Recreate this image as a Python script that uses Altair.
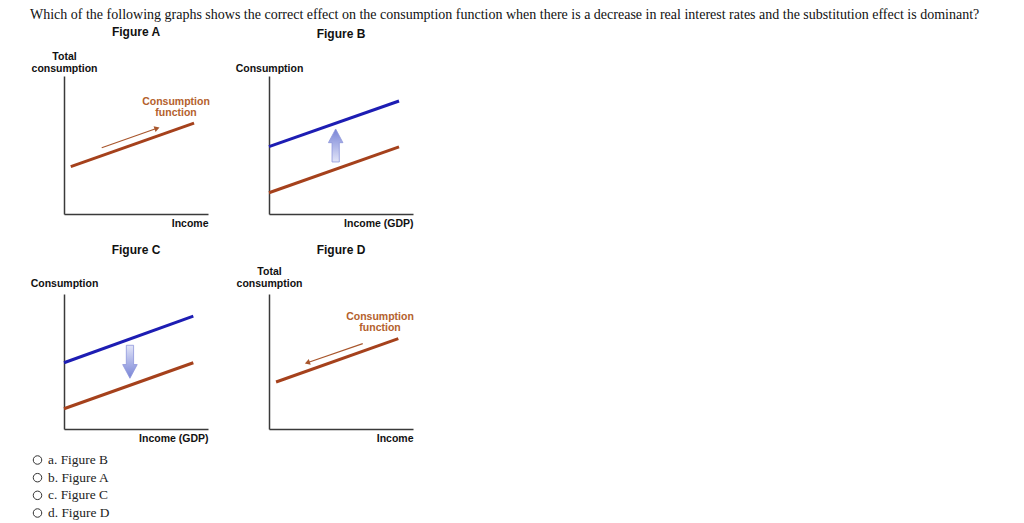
import altair as alt
import pandas as pd

# ---------------- text ----------------
QUESTION = ("Which of the following graphs shows the correct effect on the consumption function "
            "when there is a decrease in real interest rates and the substitution effect is dominant?")
FIG_TITLES = ["Figure A", "Figure B", "Figure C", "Figure D"]
Y_TITLES = [["Total", "consumption"], "Consumption", "Consumption", ["Total", "consumption"]]
X_TITLES = ["Income", "Income (GDP)", "Income (GDP)", "Income"]
CF_LABEL = "Consumption\nfunction"
OPTIONS = ["a. Figure B", "b. Figure A", "c. Figure C", "d. Figure D"]

# ---------------- data (panel units, 0..10 on both axes) ----------------
# Figure A: movement along the consumption function (up-right)
a_cf_x = [0.47, 9.03]
a_cf_y = [3.43, 6.59]
a_move_x = [2.62, 6.46]
a_move_y = [4.80, 6.21]
a_label_xy = [7.78, 8.14]

# Figure B: upward shift
b_x = [0.0, 9.03]
b_before_y = [1.54, 4.86]
b_after_y = [4.88, 8.19]
b_shift_x = 4.63
b_shift_tail_tip = [3.79, 6.14]

# Figure C: downward shift
c_x = [0.0, 8.98]
c_before_y = [4.91, 8.36]
c_after_y = [1.50, 4.91]
c_shift_x = 4.58
c_shift_tail_tip = [6.15, 3.81]

# Figure D: movement along the consumption function (down-left)
d_cf_x = [0.49, 8.98]
d_cf_y = [3.48, 6.69]
d_move_x = [6.51, 2.66]
d_move_y = [6.32, 4.91]
d_label_xy = [7.71, 8.30]

# ---------------- styles ----------------
RED = "#a5411c"
BLUE = "#1d1db3"
LABEL = "#b4612d"
THIN = "#a8562c"
AXIS = "#3a3a3a"
SANS = "Liberation Sans"
SERIF = "Liberation Serif"

UP_ARROW = "M0,-1 L0.44,-0.17 L0.22,-0.17 L0.22,1 L-0.22,1 L-0.22,-0.17 L-0.44,-0.17 Z"
DOWN_ARROW = "M0,1 L0.44,0.17 L0.22,0.17 L0.22,-1 L-0.22,-1 L-0.22,0.17 L-0.44,0.17 Z"


def grad(dark_top):
    dark, light = "#7783d6", "#e2e5f8"
    stops = [alt.GradientStop(color=dark, offset=0), alt.GradientStop(color=light, offset=1)]
    if not dark_top:
        stops = [alt.GradientStop(color=light, offset=0), alt.GradientStop(color=dark, offset=1)]
    return alt.LinearGradient(gradient="linear", stops=stops, x1=0, x2=0, y1=0, y2=1)


def enc_x(title):
    return alt.X("x:Q", scale=alt.Scale(domain=[0, 10], nice=False, zero=False),
                 axis=alt.Axis(title=title, ticks=False, labels=False, grid=False,
                               domainColor=AXIS, domainWidth=1.5,
                               titleAnchor="end", titleAlign="right", titlePadding=4,
                               titleFont=SANS, titleFontSize=10.5, titleFontWeight="bold",
                               titleColor="#111"))


def enc_y(title, ty):
    return alt.Y("y:Q", scale=alt.Scale(domain=[0, 10], nice=False, zero=False),
                 axis=alt.Axis(title=title, ticks=False, labels=False, grid=False,
                               domainColor=AXIS, domainWidth=1.5,
                               titleAngle=0, titleX=0, titleY=ty, titleAlign="center",
                               titleBaseline="top", titleLineHeight=12,
                               titleFont=SANS, titleFontSize=10.5, titleFontWeight="bold",
                               titleColor="#111"))


def curves(xs, series):
    rows = []
    for name, ys in series:
        for x, y in zip(xs, ys):
            rows.append({"x": x, "y": y, "curve": name})
    return pd.DataFrame(rows)


def panel(i, layers_fn, height, title_offset, ty):
    X = enc_x(X_TITLES[i])
    Y = enc_y(Y_TITLES[i], ty)
    layers = layers_fn(X, Y)
    return alt.layer(*layers).properties(
        width=144, height=height,
        title=alt.TitleParams(FIG_TITLES[i], frame="group", anchor="middle", offset=title_offset,
                              baseline="bottom", font=SANS, fontSize=12, fontWeight="bold",
                              color="#111"))


def curve_layer(df, X, Y, domain, rng):
    return alt.Chart(df).mark_line(strokeWidth=3, strokeCap="butt").encode(
        x=X, y=Y, detail="curve:N",
        color=alt.Color("curve:N", scale=alt.Scale(domain=domain, range=rng), legend=None))


def move_layers(xs, ys, shape, X, Y):
    df = pd.DataFrame({"x": xs, "y": ys})
    line = alt.Chart(df).mark_line(strokeWidth=1.2, color=THIN).encode(x=X, y=Y)
    head = alt.Chart(df.tail(1)).mark_point(shape=shape, filled=True, size=36, angle=341,
                                            color=THIN, opacity=1).encode(x=X, y=Y)
    return [line, head]


def label_layer(xy, X, Y):
    df = pd.DataFrame({"x": [xy[0]], "y": [xy[1]], "t": [CF_LABEL]})
    return alt.Chart(df).mark_text(lineBreak="\n", font=SANS, fontSize=10.5, fontWeight="bold",
                                   color=LABEL, align="center", baseline="middle",
                                   lineHeight=11.5).encode(x=X, y=Y, text="t:N")


def shift_layer(x, tail_tip, path, dark_top, X, Y):
    df = pd.DataFrame({"x": [x], "tail": [tail_tip[0]], "tip": [tail_tip[1]]})
    df["y"] = (df["tail"] + df["tip"]) / 2
    return alt.Chart(df).mark_point(shape=path, size=1089, filled=True, opacity=1,
                                    fill=grad(dark_top), stroke="#8d95da",
                                    strokeWidth=0.8).encode(x=X, y=Y)


def layers_a(X, Y):
    df = curves(a_cf_x, [("before", a_cf_y)])
    return ([curve_layer(df, X, Y, ["before"], [RED])]
            + move_layers(a_move_x, a_move_y, "triangle-right", X, Y)
            + [label_layer(a_label_xy, X, Y)])


def layers_b(X, Y):
    df = curves(b_x, [("before", b_before_y), ("after", b_after_y)])
    return [curve_layer(df, X, Y, ["before", "after"], [RED, BLUE]),
            shift_layer(b_shift_x, b_shift_tail_tip, UP_ARROW, True, X, Y)]


def layers_c(X, Y):
    df = curves(c_x, [("before", c_before_y), ("after", c_after_y)])
    return [curve_layer(df, X, Y, ["before", "after"], [BLUE, RED]),
            shift_layer(c_shift_x, c_shift_tail_tip, DOWN_ARROW, False, X, Y)]


def layers_d(X, Y):
    df = curves(d_cf_x, [("before", d_cf_y)])
    return ([curve_layer(df, X, Y, ["before"], [RED])]
            + move_layers(d_move_x, d_move_y, "triangle-left", X, Y)
            + [label_layer(d_label_xy, X, Y)])


pA = panel(0, layers_a, 138, 0, -25)
pB = panel(1, layers_b, 138, 10, -13)
pC = panel(2, layers_c, 135, 9, -16)
pD = panel(3, layers_d, 135, -3, -28)

spacer = alt.Chart(pd.DataFrame({"v": [0]})).mark_point(opacity=0).encode(
    x=alt.value(0), y=alt.value(0)).properties(width=144, height=18)

opt_df = pd.DataFrame({"opt": OPTIONS})
opt_y = alt.Y("opt:N", scale=alt.Scale(type="point", padding=0, domain=OPTIONS), axis=None)
opt_circles = alt.Chart(opt_df).mark_point(shape="circle", filled=False, size=72, stroke="#333",
                                           strokeWidth=1, opacity=1).encode(x=alt.value(-26.5), y=opt_y)
opt_text = alt.Chart(opt_df).mark_text(align="left", baseline="middle", font=SERIF, fontSize=13.4,
                                       color="#222").encode(x=alt.value(-16), y=opt_y, text="opt:N")
opts = alt.layer(opt_circles, opt_text).properties(width=144, height=53)

chart = alt.concat(pA, pB, spacer, spacer, pC, pD, opts, columns=2,
                   spacing={"row": 31, "column": 61}, bounds="flush").properties(
    title=alt.TitleParams(QUESTION, anchor="start", frame="group", dx=-34, offset=-9.5,
                          baseline="bottom", font=SERIF, fontSize=14, fontWeight="normal",
                          color="#111"),
    padding={"left": 22, "top": -1, "right": 5, "bottom": 0},
).resolve_scale(color="independent", x="independent", y="independent").configure_view(stroke=None)

chart.save("out.html", embed_options={"renderer": "svg", "actions": False})
